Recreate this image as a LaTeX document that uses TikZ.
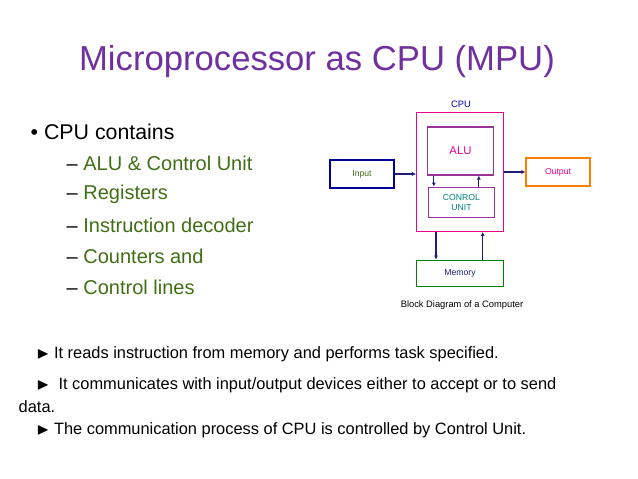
\documentclass[tikz,border=0pt]{standalone}
\usepackage{amssymb}
\usepackage{fontspec}
\setmainfont{Liberation Sans}
\usetikzlibrary{arrows.meta,positioning}
\definecolor{ttl}{RGB}{112,48,160}
\definecolor{grn}{RGB}{64,110,20}
\definecolor{navy}{RGB}{30,30,120}
\tikzset{
  box/.style={draw, thick, inner sep=0pt, font=\fontsize{6.5}{8}\selectfont, align=center},
  arrow/.style={-{Latex[length=3pt,width=3pt]}, thick, draw=navy},
  sub/.style={anchor=west, text=grn, font=\fontsize{15}{18}\selectfont},
  para/.style={anchor=west, font=\fontsize{12.3}{15}\selectfont},
}
\begin{document}
\begin{tikzpicture}[x=0.75pt, y=-0.75pt]
  \useasboundingbox (0,0) rectangle (638,478);
  \node[text=ttl, font=\fontsize{26}{30}\selectfont] (title) at (317,62) {Microprocessor as CPU (MPU)};
  \node[anchor=west, font=\fontsize{16}{19}\selectfont] (cont) at (26,132) {\textbullet\ CPU contains};
  \node[sub] (s1) at (62,163) {\textcolor{black}{--} ALU \& Control Unit};
  \node[sub] (s2) at (62,194) {\textcolor{black}{--} Registers};
  \node[sub] (s3) at (62,225) {\textcolor{black}{--} Instruction decoder};
  \node[sub] (s4) at (62,256) {\textcolor{black}{--} Counters and};
  \node[sub] (s5) at (62,287) {\textcolor{black}{--} Control lines};

  % block diagram
  \node[box, draw=magenta, minimum width=65pt, minimum height=89pt] (cpu) at (460,172) {};
  \node[text=blue!70!black, font=\fontsize{7}{8}\selectfont] (cpulbl) at (461,104) {CPU};
  \node[box, draw=violet!80, text=magenta, font=\fontsize{8.5}{10}\selectfont, minimum width=49pt, minimum height=36pt] (alu) at (460.5,151) {ALU};
  \node[box, draw=violet!80, text=teal, minimum width=49pt, minimum height=23pt] (ctrl) at (461.5,202.5) {CONROL\\UNIT};
  \node[box, draw=blue!60!black, text=grn, minimum width=48pt, minimum height=21pt] (in) at (362,174) {Input};
  \node[box, draw=orange, text=magenta, minimum width=48pt, minimum height=21pt] (out) at (558,172) {Output};
  \node[box, draw=green!50!black, text=navy, minimum width=65pt, minimum height=20pt] (mem) at (460,273.5) {Memory};
  \node[font=\fontsize{7}{8}\selectfont] (cap) at (462,305) {Block Diagram of a Computer};

  \draw[arrow] (in.east) -- (in.east -| cpu.west);
  \draw[arrow] (cpu.east |- out.west) -- (out.west);
  \draw[arrow] ([xshift=-20pt]alu.south) -- ([xshift=-20pt]alu.south |- ctrl.north);
  \draw[arrow] ([xshift=13pt]ctrl.north) -- ([xshift=13pt]ctrl.north |- alu.south);
  \draw[arrow] ([xshift=-18pt]cpu.south) -- ([xshift=-18pt]cpu.south |- mem.north);
  \draw[arrow] ([xshift=17pt]mem.north) -- ([xshift=17pt]mem.north |- cpu.south);

  % notes
  \node[para] (p1) at (32,354) {$\blacktriangleright$ It reads instruction from memory and performs task specified.};
  \node[para] (p2) at (32,385) {$\blacktriangleright$\ \ It communicates with input/output devices either to accept or to send};
  \node[para] (p3) at (14,407) {data.};
  \node[para] (p4) at (32,430) {$\blacktriangleright$ The communication process of CPU is controlled by Control Unit.};
\end{tikzpicture}
\end{document}
